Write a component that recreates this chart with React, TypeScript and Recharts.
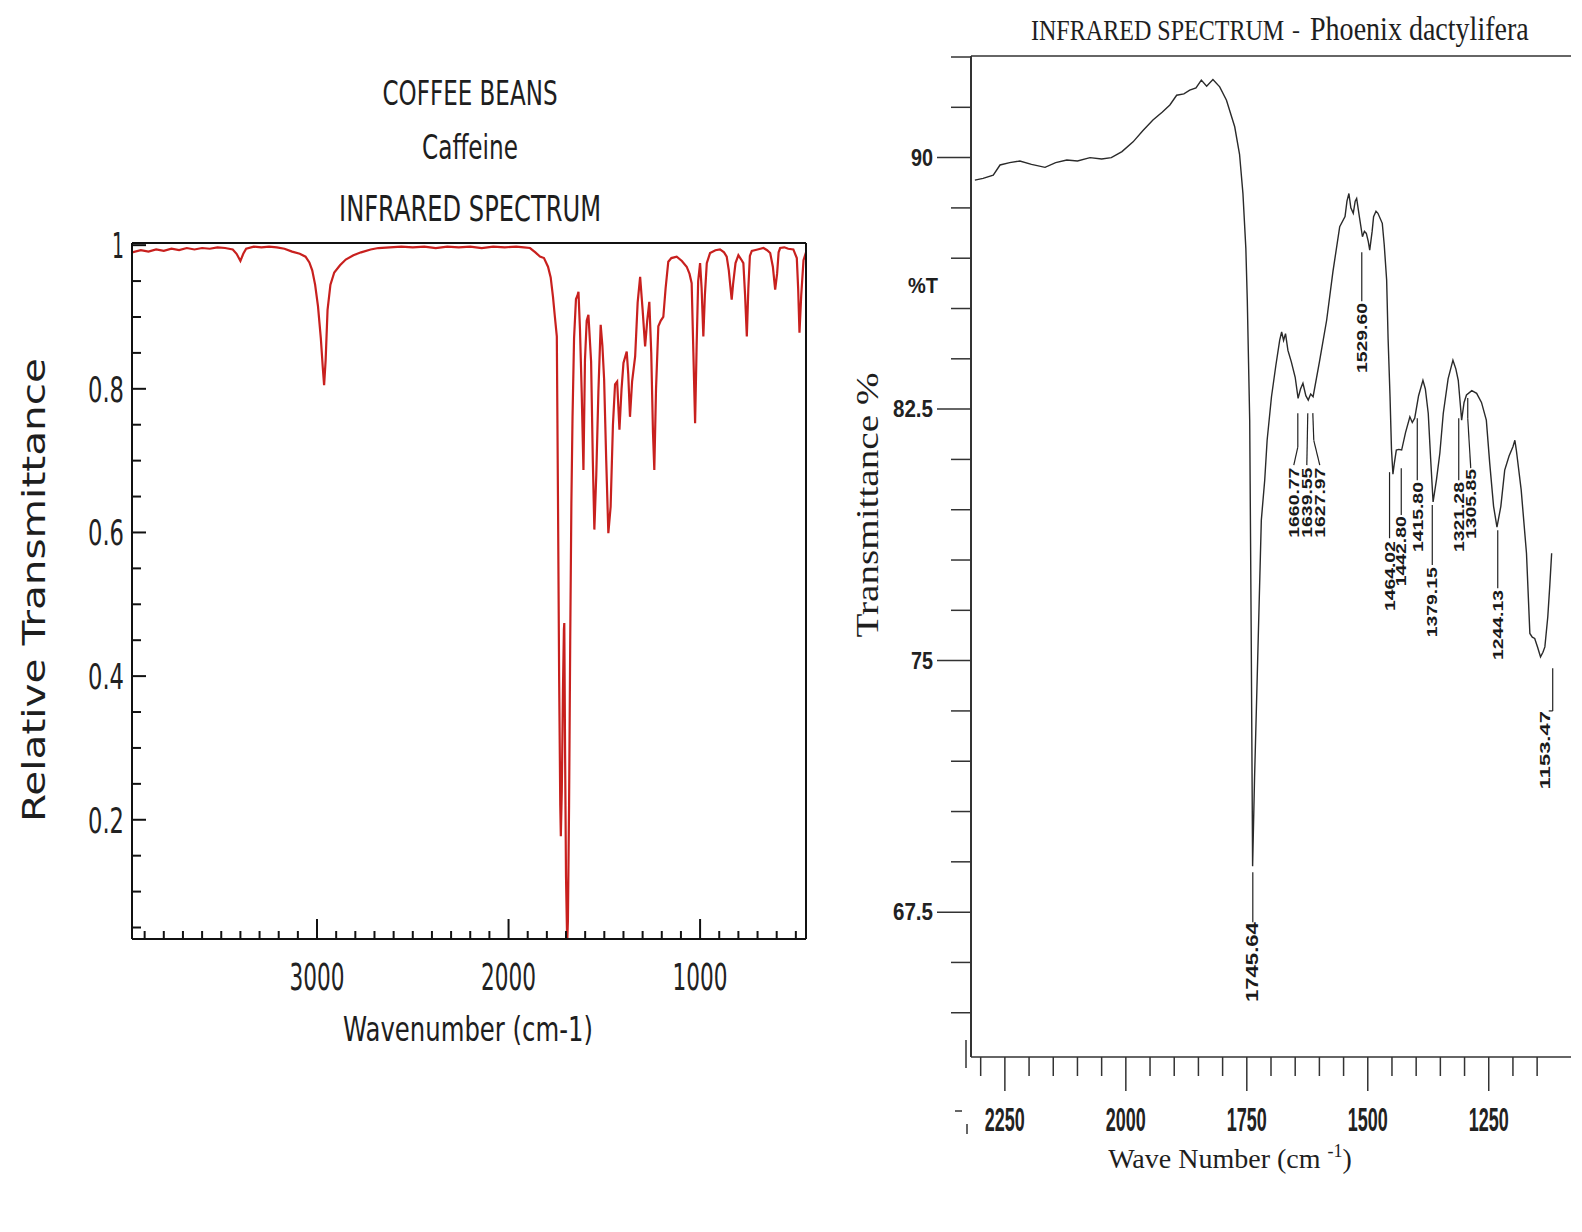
import React from 'react';
import { LineChart, Line, XAxis, YAxis, ReferenceLine, ReferenceDot } from 'recharts';

// ---- Coffee beans / caffeine spectrum (left) ----
const coffeeWn = [
  3966, 3920, 3880, 3840, 3800, 3760, 3720, 3680, 3640, 3600,
  3560, 3520, 3480, 3440, 3420, 3400, 3385, 3370, 3330, 3290,
  3250, 3210, 3170, 3130, 3090, 3060, 3040, 3025, 3010, 2995,
  2980, 2970, 2963, 2955, 2945, 2930, 2910, 2880, 2850, 2810,
  2770, 2720, 2680, 2620, 2560, 2500, 2440, 2380, 2320, 2260,
  2200, 2140, 2080, 2020, 1960, 1920, 1888, 1860, 1836, 1815,
  1794, 1780, 1768, 1758, 1748, 1742, 1736, 1730, 1727, 1722,
  1716, 1711, 1709, 1705, 1700, 1695, 1693, 1690, 1684, 1678,
  1672, 1666, 1658, 1648, 1640, 1635, 1627, 1618, 1609, 1601,
  1592, 1583, 1569, 1560, 1552, 1542, 1531, 1519, 1510, 1501,
  1490, 1479, 1467, 1455, 1444, 1433, 1421, 1410, 1400, 1383,
  1375, 1366, 1355, 1339, 1326, 1313, 1300, 1287, 1276, 1265,
  1255, 1246, 1239, 1230, 1218, 1205, 1192, 1180, 1166, 1150,
  1122, 1095, 1070, 1055, 1044, 1035, 1026, 1018, 1010, 1000,
  992, 983, 975, 965, 948, 920, 896, 875, 861, 850,
  841, 835, 828, 815, 800, 785, 774, 765, 756, 748,
  740, 730, 700, 669, 650, 634, 620, 608, 598, 590,
  582, 560, 540, 513, 495, 488, 481, 472, 460, 447,
];
const coffeeT = [
  0.990, 0.993, 0.991, 0.994, 0.992, 0.995, 0.993, 0.996, 0.994, 0.996,
  0.995, 0.997, 0.996, 0.994, 0.988, 0.978, 0.988, 0.995, 0.998, 0.997,
  0.998, 0.997, 0.995, 0.991, 0.988, 0.984, 0.976, 0.965, 0.945, 0.915,
  0.870, 0.830, 0.805, 0.840, 0.910, 0.945, 0.962, 0.972, 0.980, 0.986,
  0.990, 0.994, 0.996, 0.997, 0.998, 0.997, 0.998, 0.996, 0.998, 0.997,
  0.998, 0.996, 0.998, 0.997, 0.998, 0.997, 0.996, 0.990, 0.984, 0.982,
  0.970, 0.955, 0.928, 0.900, 0.873, 0.650, 0.400, 0.220, 0.177, 0.240,
  0.380, 0.465, 0.474, 0.300, 0.120, 0.045, 0.035, 0.060, 0.220, 0.450,
  0.640, 0.760, 0.870, 0.925, 0.930, 0.935, 0.882, 0.794, 0.687, 0.840,
  0.895, 0.903, 0.838, 0.700, 0.604, 0.680, 0.795, 0.889, 0.860, 0.813,
  0.700, 0.599, 0.636, 0.750, 0.806, 0.810, 0.743, 0.800, 0.836, 0.852,
  0.820, 0.761, 0.810, 0.845, 0.920, 0.956, 0.910, 0.859, 0.895, 0.921,
  0.850, 0.740, 0.687, 0.800, 0.887, 0.895, 0.900, 0.940, 0.977, 0.982,
  0.984, 0.978, 0.970, 0.960, 0.947, 0.850, 0.752, 0.860, 0.950, 0.975,
  0.940, 0.873, 0.930, 0.975, 0.989, 0.993, 0.994, 0.990, 0.984, 0.965,
  0.940, 0.924, 0.945, 0.975, 0.986, 0.980, 0.975, 0.930, 0.873, 0.940,
  0.985, 0.992, 0.994, 0.996, 0.993, 0.989, 0.970, 0.938, 0.960, 0.990,
  0.996, 0.997, 0.995, 0.994, 0.982, 0.940, 0.878, 0.930, 0.979, 0.990,
];
const coffeeXTicks = [
  3900, 3800, 3700, 3600, 3500, 3400, 3300, 3200, 3100, 3000,
  2900, 2800, 2700, 2600, 2500, 2400, 2300, 2200, 2100, 2000,
  1900, 1800, 1700, 1600, 1500, 1400, 1300, 1200, 1100, 1000,
  900, 800, 700, 600, 500,
];
const coffeeXLabels = [3000, 2000, 1000];
const coffeeYTicks = [
  0.05, 0.1, 0.15, 0.2, 0.25, 0.3, 0.35, 0.4, 0.45, 0.5,
  0.55, 0.6, 0.65, 0.7, 0.75, 0.8, 0.85, 0.9, 0.95, 1,
];
const coffeeYLabels = [0.2, 0.4, 0.6, 0.8, 1];

// ---- Phoenix dactylifera spectrum (right) ----
const dateWn = [
  2312, 2295, 2274, 2260, 2240, 2219, 2195, 2167, 2145, 2122,
  2100, 2074, 2050, 2030, 2008, 1985, 1965, 1944, 1925, 1909,
  1895, 1880, 1868, 1855, 1844, 1833, 1820, 1806, 1792, 1775,
  1765, 1758, 1752, 1749, 1744, 1741, 1738, 1734, 1729, 1720,
  1713, 1708, 1699, 1690, 1682, 1678, 1674, 1670, 1665, 1658,
  1650, 1644, 1639, 1634, 1628, 1623, 1618, 1613, 1600, 1585,
  1572, 1558, 1547, 1543, 1539, 1535, 1530, 1526, 1523, 1517,
  1511, 1507, 1503, 1499, 1496, 1491, 1488, 1483, 1479, 1470,
  1466, 1461, 1458, 1454, 1451, 1448, 1445, 1441, 1436, 1430,
  1422, 1413, 1408, 1403, 1395, 1386, 1381, 1375, 1370, 1365,
  1358, 1351, 1344, 1334, 1324, 1318, 1313, 1306, 1301, 1296,
  1285, 1275, 1265, 1255, 1248, 1240, 1233, 1225, 1217, 1208,
  1200, 1196, 1193, 1183, 1172, 1165, 1160, 1155, 1149, 1143,
  1138, 1134, 1128, 1124, 1120,
];
const dateT = [
  89.33, 89.38, 89.48, 89.78, 89.85, 89.90, 89.80, 89.71, 89.85, 89.93,
  89.90, 90.00, 89.96, 90.00, 90.18, 90.47, 90.80, 91.12, 91.35, 91.57,
  91.86, 91.90, 92.01, 92.08, 92.31, 92.13, 92.33, 92.11, 91.71, 90.92,
  90.10, 88.93, 87.30, 85.75, 82.17, 76.00, 68.87, 71.50, 74.22, 79.19,
  80.38, 81.57, 82.87, 83.80, 84.56, 84.80, 84.55, 84.75, 84.25, 83.91,
  83.45, 82.82, 83.10, 83.27, 82.90, 82.77, 82.95, 82.87, 83.90, 85.15,
  86.60, 87.94, 88.24, 88.70, 88.93, 88.50, 88.34, 88.70, 88.78, 88.20,
  87.64, 87.80, 87.74, 87.50, 87.24, 87.80, 88.24, 88.40, 88.34, 88.04,
  87.40, 86.35, 84.60, 82.87, 81.30, 80.56, 80.90, 81.28, 81.30, 81.28,
  81.80, 82.27, 82.10, 82.23, 82.90, 83.36, 83.10, 82.37, 81.00, 79.73,
  80.40, 81.19, 82.37, 83.40, 83.96, 83.70, 83.36, 82.17, 82.70, 82.92,
  83.05, 82.97, 82.70, 82.17, 80.89, 79.60, 78.98, 79.60, 80.68, 81.10,
  81.38, 81.57, 81.28, 80.10, 78.20, 75.81, 75.70, 75.66, 75.40, 75.11,
  75.25, 75.41, 76.30, 77.20, 78.20,
];
const dateXTicks = [
  2300, 2250, 2200, 2150, 2100, 2050, 2000, 1950, 1900, 1850, 1800, 1750,
  1700, 1650, 1600, 1550, 1500, 1450, 1400, 1350, 1300, 1250, 1200, 1150,
];
const dateXLabels = [2250, 2000, 1750, 1500, 1250];
const dateYTicks = [
  64.5, 66, 67.5, 69, 70.5, 72, 73.5, 75, 76.5, 78, 79.5, 81,
  82.5, 84, 85.5, 87, 88.5, 90, 91.5, 93,
];
const dateYLabels = [90, 82.5, 75, 67.5];

// peak annotations: label text, where the text sits, and its leader line
const peakLabels = ['1745.64', '1660.77', '1639.55', '1627.97', '1529.60', '1464.02', '1442.80',
  '1415.80', '1379.15', '1321.28', '1305.85', '1244.13', '1153.47'];
const peakTextWn = [1737.6, 1652.9, 1626.0, 1599.2, 1512.4, 1455, 1430.8, 1396.7, 1366.7, 1312, 1287.2, 1231.4, 1134.3];
const peakTextT = [66.01, 79.71, 79.71, 79.71, 84.62, 77.52, 78.26, 79.28, 76.74, 79.28, 79.67, 76.06, 72.33];
const peakLeaders: number[][][] = [
  [[1737.6, 68.69], [1737.6, 67.2]],
  [[1644.6, 82.38], [1644.6, 81.37], [1652.9, 80.83]],
  [[1624.0, 82.38], [1626.0, 80.83]],
  [[1613.6, 82.38], [1611.6, 81.57], [1599.2, 80.83]],
  [[1512.4, 87.18], [1512.4, 85.72]],
  [[1455, 80.62], [1455, 78.65]],
  [[1430.8, 80.74], [1430.8, 79.34]],
  [[1397.7, 82.23], [1397.7, 80.38]],
  [[1366.7, 79.64], [1366.7, 77.85]],
  [[1312, 82.23], [1312, 80.38]],
  [[1293.4, 82.83], [1293.4, 82.23], [1287.2, 80.74]],
  [[1231.4, 78.89], [1231.4, 77.16]],
  [[1117.8, 74.77], [1117.8, 73.5], [1126, 73.5]],
];

const coffeeData = coffeeWn.map((wn, i) => ({ wn, t: coffeeT[i] }));
const dateData = dateWn.map((wn, i) => ({ wn, t: dateT[i] }));

const LEFT_FONT = '"DejaVu Sans", sans-serif';
const SERIF = '"Liberation Serif", serif';
const SANS = '"Liberation Sans", Arial, sans-serif';
const near = (list: number[], v: number) => list.some((l) => Math.abs(l - v) < 1e-6);

const CoffeeXTick = (props: any) => {
  const { x, y, payload } = props;
  const v = payload.value as number;
  const major = near(coffeeXLabels, v);
  return (
    <g>
      <line x1={x} x2={x} y1={y} y2={y - (major ? 20 : 8)} stroke="#111" strokeWidth={2} />
      {major && (
        <text x={x} y={y + 51} textAnchor="middle" fontFamily={LEFT_FONT} fontSize={37}
          textLength={55} lengthAdjust="spacingAndGlyphs" fill="#222">{v}</text>
      )}
    </g>
  );
};

const CoffeeYTick = (props: any) => {
  const { x, y, payload } = props;
  const v = payload.value as number;
  const major = near(coffeeYLabels, v);
  const label = v === 1 ? '1' : v.toFixed(1);
  return (
    <g>
      <line x1={x} x2={x + (major ? 14 : 9)} y1={y} y2={y} stroke="#111" strokeWidth={2} />
      {major && (
        <text x={x - 8} y={y + 13} textAnchor="end" fontFamily={LEFT_FONT} fontSize={36}
          textLength={label.length === 1 ? 12 : 36} lengthAdjust="spacingAndGlyphs" fill="#222">{label}</text>
      )}
    </g>
  );
};

const DateXTick = (props: any) => {
  const { x, y, payload } = props;
  const v = payload.value as number;
  const major = near(dateXLabels, v);
  return (
    <g>
      <line x1={x} x2={x} y1={y} y2={y + (major ? 34 : 19)} stroke="#333" strokeWidth={1.5} />
      {major && (
        <text x={x} y={y + 74} textAnchor="middle" fontFamily={SANS} fontWeight="bold" fontSize={33}
          textLength={40} lengthAdjust="spacingAndGlyphs" fill="#222">{v}</text>
      )}
    </g>
  );
};

const DateYTick = (props: any) => {
  const { x, y, payload } = props;
  const v = payload.value as number;
  const major = near(dateYLabels, v);
  const label = String(v);
  return (
    <g>
      <line x1={x} x2={x - (major ? 34 : 20)} y1={y} y2={y} stroke="#333" strokeWidth={1.5} />
      {major && (
        <text x={x - 38} y={y + 8} textAnchor="end" fontFamily={SANS} fontWeight="bold" fontSize={23}
          textLength={label.length > 2 ? 40 : 22} lengthAdjust="spacingAndGlyphs" fill="#222">{label}</text>
      )}
    </g>
  );
};

const CoffeeChart = () => (
  <div style={{ position: 'absolute', left: 0, top: 0 }}>
    <LineChart width={830} height={1100} data={coffeeData} margin={{ top: 243, right: 24, bottom: 81, left: 52 }}>
      <XAxis dataKey="wn" type="number" domain={[447, 3966]} reversed allowDataOverflow ticks={coffeeXTicks}
        interval={0} tickSize={0} tickMargin={0} height={80} axisLine={{ stroke: '#111', strokeWidth: 2 }}
        tick={CoffeeXTick} />
      <YAxis type="number" domain={[0.034, 1.003]} allowDataOverflow ticks={coffeeYTicks} interval={0}
        width={80} tickSize={0} tickMargin={0} axisLine={{ stroke: '#111', strokeWidth: 2 }} tick={CoffeeYTick} />
      <Line type="linear" dataKey="t" stroke="#c8201e" strokeWidth={2.2} dot={false} isAnimationActive={false} />
      <ReferenceLine y={1.003} stroke="#111" strokeWidth={2} />
      <ReferenceLine x={447} stroke="#111" strokeWidth={2} />
    </LineChart>
  </div>
);

const DateChart = () => (
  <div style={{ position: 'absolute', left: 830, top: 0 }}>
    <LineChart width={752} height={1232} data={dateData} margin={{ top: 56, right: 11, bottom: 95, left: 61 }}>
      <XAxis dataKey="wn" type="number" domain={[1080, 2320]} reversed allowDataOverflow ticks={dateXTicks}
        interval={0} tickSize={0} tickMargin={0} height={80} axisLine={{ stroke: '#333', strokeWidth: 1.5 }}
        tick={DateXTick} />
      <YAxis type="number" domain={[63.18, 93.03]} allowDataOverflow ticks={dateYTicks} interval={0}
        width={80} tickSize={0} tickMargin={0} axisLine={{ stroke: '#333', strokeWidth: 2 }} tick={DateYTick} />
      <ReferenceLine y={93.03} stroke="#333" strokeWidth={1.5} />
      <Line type="linear" dataKey="t" stroke="#2a2a2a" strokeWidth={1.4} dot={false} isAnimationActive={false} />
      {peakLeaders.map((pts, i) =>
        pts.slice(1).map((p, j) => (
          <ReferenceLine key={`lead-${i}-${j}`} ifOverflow="visible" stroke="#222" strokeWidth={1.2}
            segment={[{ x: pts[j][0], y: pts[j][1] }, { x: p[0], y: p[1] }]} />
        ))
      )}
      {peakLabels.map((label, i) => (
        <ReferenceDot key={`peak-${label}`} x={peakTextWn[i]} y={peakTextT[i]} r={0} ifOverflow="visible"
          shape={(p: any) => (
            <text transform={`translate(${p.cx},${p.cy}) rotate(-90)`} textAnchor="middle" dominantBaseline="central"
              fontFamily={SANS} fontWeight="bold" fontSize={i === 0 ? 16 : 14}
              textLength={i === 0 ? 80 : i === 12 ? 78 : 70} lengthAdjust="spacingAndGlyphs" fill="#1a1a1a">{label}</text>
          )} />
      ))}
    </LineChart>
  </div>
);

const Titles = () => (
  <svg width={1582} height={1232} style={{ position: 'absolute', left: 0, top: 0, pointerEvents: 'none' }}>
    <g fill="#1e1e1e" fontFamily={LEFT_FONT}>
      <text x={470} y={105} textAnchor="middle" fontSize={34} textLength={175} lengthAdjust="spacingAndGlyphs">COFFEE BEANS</text>
      <text x={470} y={159} textAnchor="middle" fontSize={34} textLength={96} lengthAdjust="spacingAndGlyphs">Caffeine</text>
      <text x={470} y={221} textAnchor="middle" fontSize={36} textLength={262} lengthAdjust="spacingAndGlyphs">INFRARED SPECTRUM</text>
      <text x={468} y={1041} textAnchor="middle" fontSize={33} textLength={250} lengthAdjust="spacingAndGlyphs">Wavenumber (cm-1)</text>
      <text transform="translate(34,590) rotate(-90)" textAnchor="middle" dominantBaseline="central" fontSize={32}
        textLength={464} lengthAdjust="spacingAndGlyphs">Relative Transmittance</text>
    </g>
    <g fill="#1e1e1e" fontFamily={SERIF}>
      <text transform="translate(1031,40) scale(0.83,1)" fontSize={29}>INFRARED SPECTRUM</text>
      <text x={1296} y={38} fontSize={24} textAnchor="middle">-</text>
      <text transform="translate(1310,40) scale(0.85,1)" fontSize={33}>Phoenix dactylifera</text>
      <text transform="translate(867,505) rotate(-90)" textAnchor="middle" dominantBaseline="central" fontSize={32}
        textLength={265} lengthAdjust="spacingAndGlyphs">Transmittance %</text>
      <text x={1230} y={1168} textAnchor="middle" fontSize={28}>
        Wave Number (cm <tspan dy={-11} fontSize={18}>-1</tspan><tspan dy={11}>)</tspan>
      </text>
    </g>
    <text x={923} y={293} textAnchor="middle" fontFamily={SANS} fontWeight="bold" fontSize={22}
      textLength={30} lengthAdjust="spacingAndGlyphs" fill="#1e1e1e">%T</text>
    <g stroke="#333" strokeWidth={1.5}>
      <line x1={966} x2={966} y1={1040} y2={1068} />
      <line x1={955} x2={962} y1={1111} y2={1111} />
      <line x1={967} x2={967} y1={1124} y2={1134} />
    </g>
  </svg>
);

export default function App() {
  return (
    <div style={{ position: 'absolute', left: 0, top: 0, width: 1582, height: 1232, background: '#fff' }}>
      <CoffeeChart />
      <DateChart />
      <Titles />
    </div>
  );
}
